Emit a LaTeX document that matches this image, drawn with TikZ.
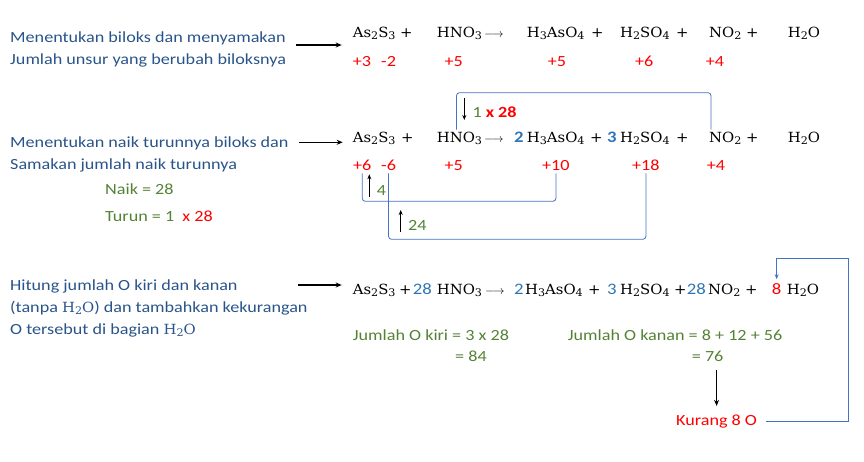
\documentclass[tikz,border=0pt]{standalone}
\usepackage{fontspec}
\usepackage{xcolor}
\usepackage{tikz}
\usetikzlibrary{positioning,arrows.meta}
\newfontfamily\calibri[FakeStretch=1.17]{Carlito}
\newfontfamily\chemfont[FakeStretch=1.06]{DejaVu Serif}
\definecolor{headblue}{RGB}{41,84,138}
\definecolor{notegreen}{RGB}{84,130,53}
\definecolor{coefblue}{RGB}{46,117,182}
\definecolor{linkblue}{RGB}{68,114,196}
\newcommand{\chsub}[1]{\raisebox{-0.3ex}{\fontsize{10.5}{10.5}\selectfont #1}}
\newcommand{\yields}{{\fontsize{13}{13}\selectfont$\longrightarrow$}}

\begin{document}
\begin{tikzpicture}[
        x = 1pt, y = -1pt,
        chem/.style = {anchor=base west, inner sep=0pt, font=\chemfont\fontsize{14}{17}\selectfont},
        head/.style = {anchor=base west, inner sep=0pt, align=left, text=headblue, font=\calibri\fontsize{15.5}{22}\selectfont},
        bil/.style = {anchor=base west, inner sep=0pt, text=red, font=\calibri\fontsize{15.5}{19}\selectfont},
        note/.style = {anchor=base west, inner sep=0pt, text=notegreen, font=\calibri\fontsize{15.5}{19}\selectfont},
        coef/.style = {anchor=base west, inner sep=0pt, text=coefblue, font=\calibri\fontsize{16}{19}\selectfont},
        bigarrow/.style = {line width=1.5pt, -{Stealth[length=6pt,width=5pt]}},
        tip/.style = {line width=0.8pt, -{Stealth[length=5pt,width=4pt]}},
        link/.style = {draw=linkblue, line width=0.8pt, rounded corners=3pt}
    ]
    \useasboundingbox (0,0) rectangle (864,461);

    % langkah 1
    \node [head] (headA) at (10,64.3) {Menentukan biloks dan menyamakan\\Jumlah unsur yang berubah biloksnya};
    \node [chem] (asA) at (352.7,37.3) {As\chsub2S\chsub3};
    \node [chem] (hnoA) at (436.7,37.3) {HNO\chsub3};
    \node [chem] (toA) at (484,37.3) {\yields};
    \node [chem] (hasA) at (526.7,37.3) {H\chsub3AsO\chsub4};
    \node [chem] (hsoA) at (620,37.3) {H\chsub2SO\chsub4};
    \node [chem] (noA) at (709,37.3) {NO\chsub2};
    \node [chem] (hoA) at (787.7,37.3) {H\chsub2O};
    \foreach \x [count=\i] in {400,591,676,746}
        \node [chem] (plusA\i) at (\x,37.3) {+};
    \foreach \x/\t [count=\i] in {352.7/+3, 381/-2, 444.3/+5, 547.7/+5, 635/+6, 705.7/+4}
        \node [bil] (bA\i) at (\x,66.7) {\t};
    \coordinate (arA) at (296,45);
    \draw [bigarrow, shorten >=11pt] (arA) -- (arA -| asA.west);

    % langkah 2
    \node [head] (headB) at (10,169) {Menentukan naik turunnya biloks dan\\Samakan jumlah naik turunnya};
    \node [chem] (asB) at (352.7,142.3) {As\chsub2S\chsub3};
    \node [chem] (hnoB) at (436.7,142.3) {HNO\chsub3};
    \node [chem] (toB) at (484,142.3) {\yields};
    \node [coef, font=\calibri\fontsize{16}{19}\selectfont\bfseries] (cTwoB) at (514,142.3) {2};
    \node [chem] (hasB) at (526.7,142.3) {H\chsub3AsO\chsub4};
    \node [coef, font=\calibri\fontsize{16}{19}\selectfont\bfseries] (cThreeB) at (607,142.3) {3};
    \node [chem] (hsoB) at (620,142.3) {H\chsub2SO\chsub4};
    \node [chem] (noB) at (709,142.3) {NO\chsub2};
    \node [chem] (hoB) at (787.7,142.3) {H\chsub2O};
    \foreach \x [count=\i] in {401,590,676,746}
        \node [chem] (plusB\i) at (\x,142.3) {+};
    \node [bil] (bSix) at (353,170) {+6};
    \node [bil] (bMinSix) at (381,170) {-6};
    \node [bil] (bFive) at (444.3,170) {+5};
    \node [bil] (bTen) at (542,170) {+10};
    \node [bil] (bEighteen) at (632,170) {+18};
    \node [bil] (bFour) at (706.7,170) {+4};
    \coordinate (arB) at (299,142.3);
    \draw [bigarrow, shorten >=10pt] (arB) -- (arB -| asB.west);

    \draw [link] ([xshift=-3pt,yshift=2pt]hnoB.north) -- ++(0,-37) -| ([xshift=2pt,yshift=2pt]noB.north west);
    \coordinate (dnTop) at (464.3,98);
    \coordinate (dnBot) at (464.3,120);
    \draw [tip] (dnTop) -- (dnBot);
    \node [note, right = 8pt of dnBot, anchor=base west, yshift=3pt] (kali) {1 \textcolor{red}{\bfseries x 28}};

    \draw [link] ([yshift=-3pt]bSix.south) -- ++(0,28) -| ([yshift=-3pt]bTen.south);
    \draw [link] ([yshift=-3pt]bMinSix.south) -- ++(0,66) -| ([yshift=-3pt]bEighteen.south);
    \coordinate (upFourBot) at (369.3,196.7);
    \coordinate (upFourTop) at (369.3,174.3);
    \draw [tip] (upFourBot) -- (upFourTop);
    \node [note] (four) at (376.7,195) {4};
    \coordinate (upTwfBot) at (400.7,231.7);
    \coordinate (upTwfTop) at (400.7,210);
    \draw [tip] (upTwfBot) -- (upTwfTop);
    \node [note] (twentyfour) at (408,230) {24};

    \node [note] (naik) at (105,194) {Naik = 28};
    \node [note] (turun) at (105,221.7) {Turun = 1~~\textcolor{red}{x 28}};

    % langkah 3
    \node [head] (headC) at (10,334) {Hitung jumlah O kiri dan kanan\\(tanpa {\chemfont\fontsize{14}{17}\selectfont H\chsub2O}) dan tambahkan kekurangan\\O tersebut di bagian {\chemfont\fontsize{14}{17}\selectfont H\chsub2O}};
    \node [chem] (asC) at (352.7,294.3) {As\chsub2S\chsub3};
    \node [chem] (plusC1) at (399,294.3) {+};
    \node [coef] (cHno) at (412.7,294.3) {28};
    \node [chem] (hnoC) at (436.7,294.3) {HNO\chsub3};
    \node [chem] (toC) at (485,294.3) {\yields};
    \node [coef] (cTwoC) at (514,294.3) {2};
    \node [chem] (hasC) at (525,294.3) {H\chsub3AsO\chsub4};
    \node [chem] (plusC2) at (588,294.3) {+};
    \node [coef] (cThreeC) at (607,294.3) {3};
    \node [chem] (hsoC) at (620,294.3) {H\chsub2SO\chsub4};
    \node [chem] (plusC3) at (674,294.3) {+};
    \node [coef] (cNo) at (686.7,294.3) {28};
    \node [chem] (noC) at (708,294.3) {NO\chsub2};
    \node [chem] (plusC4) at (745,294.3) {+};
    \node [coef, text=red] (cEight) at (771.7,294.3) {8};
    \node [chem] (hoC) at (786.7,294.3) {H\chsub2O};
    \coordinate (arC) at (298,285);
    \draw [bigarrow, shorten >=11pt] (arC) -- (arC -| asC.west);

    \node [note] (kiri) at (352.7,340) {Jumlah O kiri = 3 x 28};
    \node [note] (kiriSum) at (455,361.7) {= 84};
    \node [note] (kanan) at (567.7,340) {Jumlah O kanan = 8 + 12 + 56};
    \node [note] (kananSum) at (691.7,361.7) {= 76};
    \node [bil] (kurang) at (676,425.7) {Kurang 8 O};
    \draw [bigarrow] ([yshift=-8pt]kurang.north |- kananSum.south) -- ([yshift=9pt]kurang.north);

    \coordinate (farR) at (848,258.3);
    \draw [draw=linkblue, line width=0.8pt, -{Stealth[length=5pt,width=4pt]}]
        ([xshift=9pt]kurang.east) -| (farR) -| ([yshift=4pt]cEight.north);
\end{tikzpicture}
\end{document}
